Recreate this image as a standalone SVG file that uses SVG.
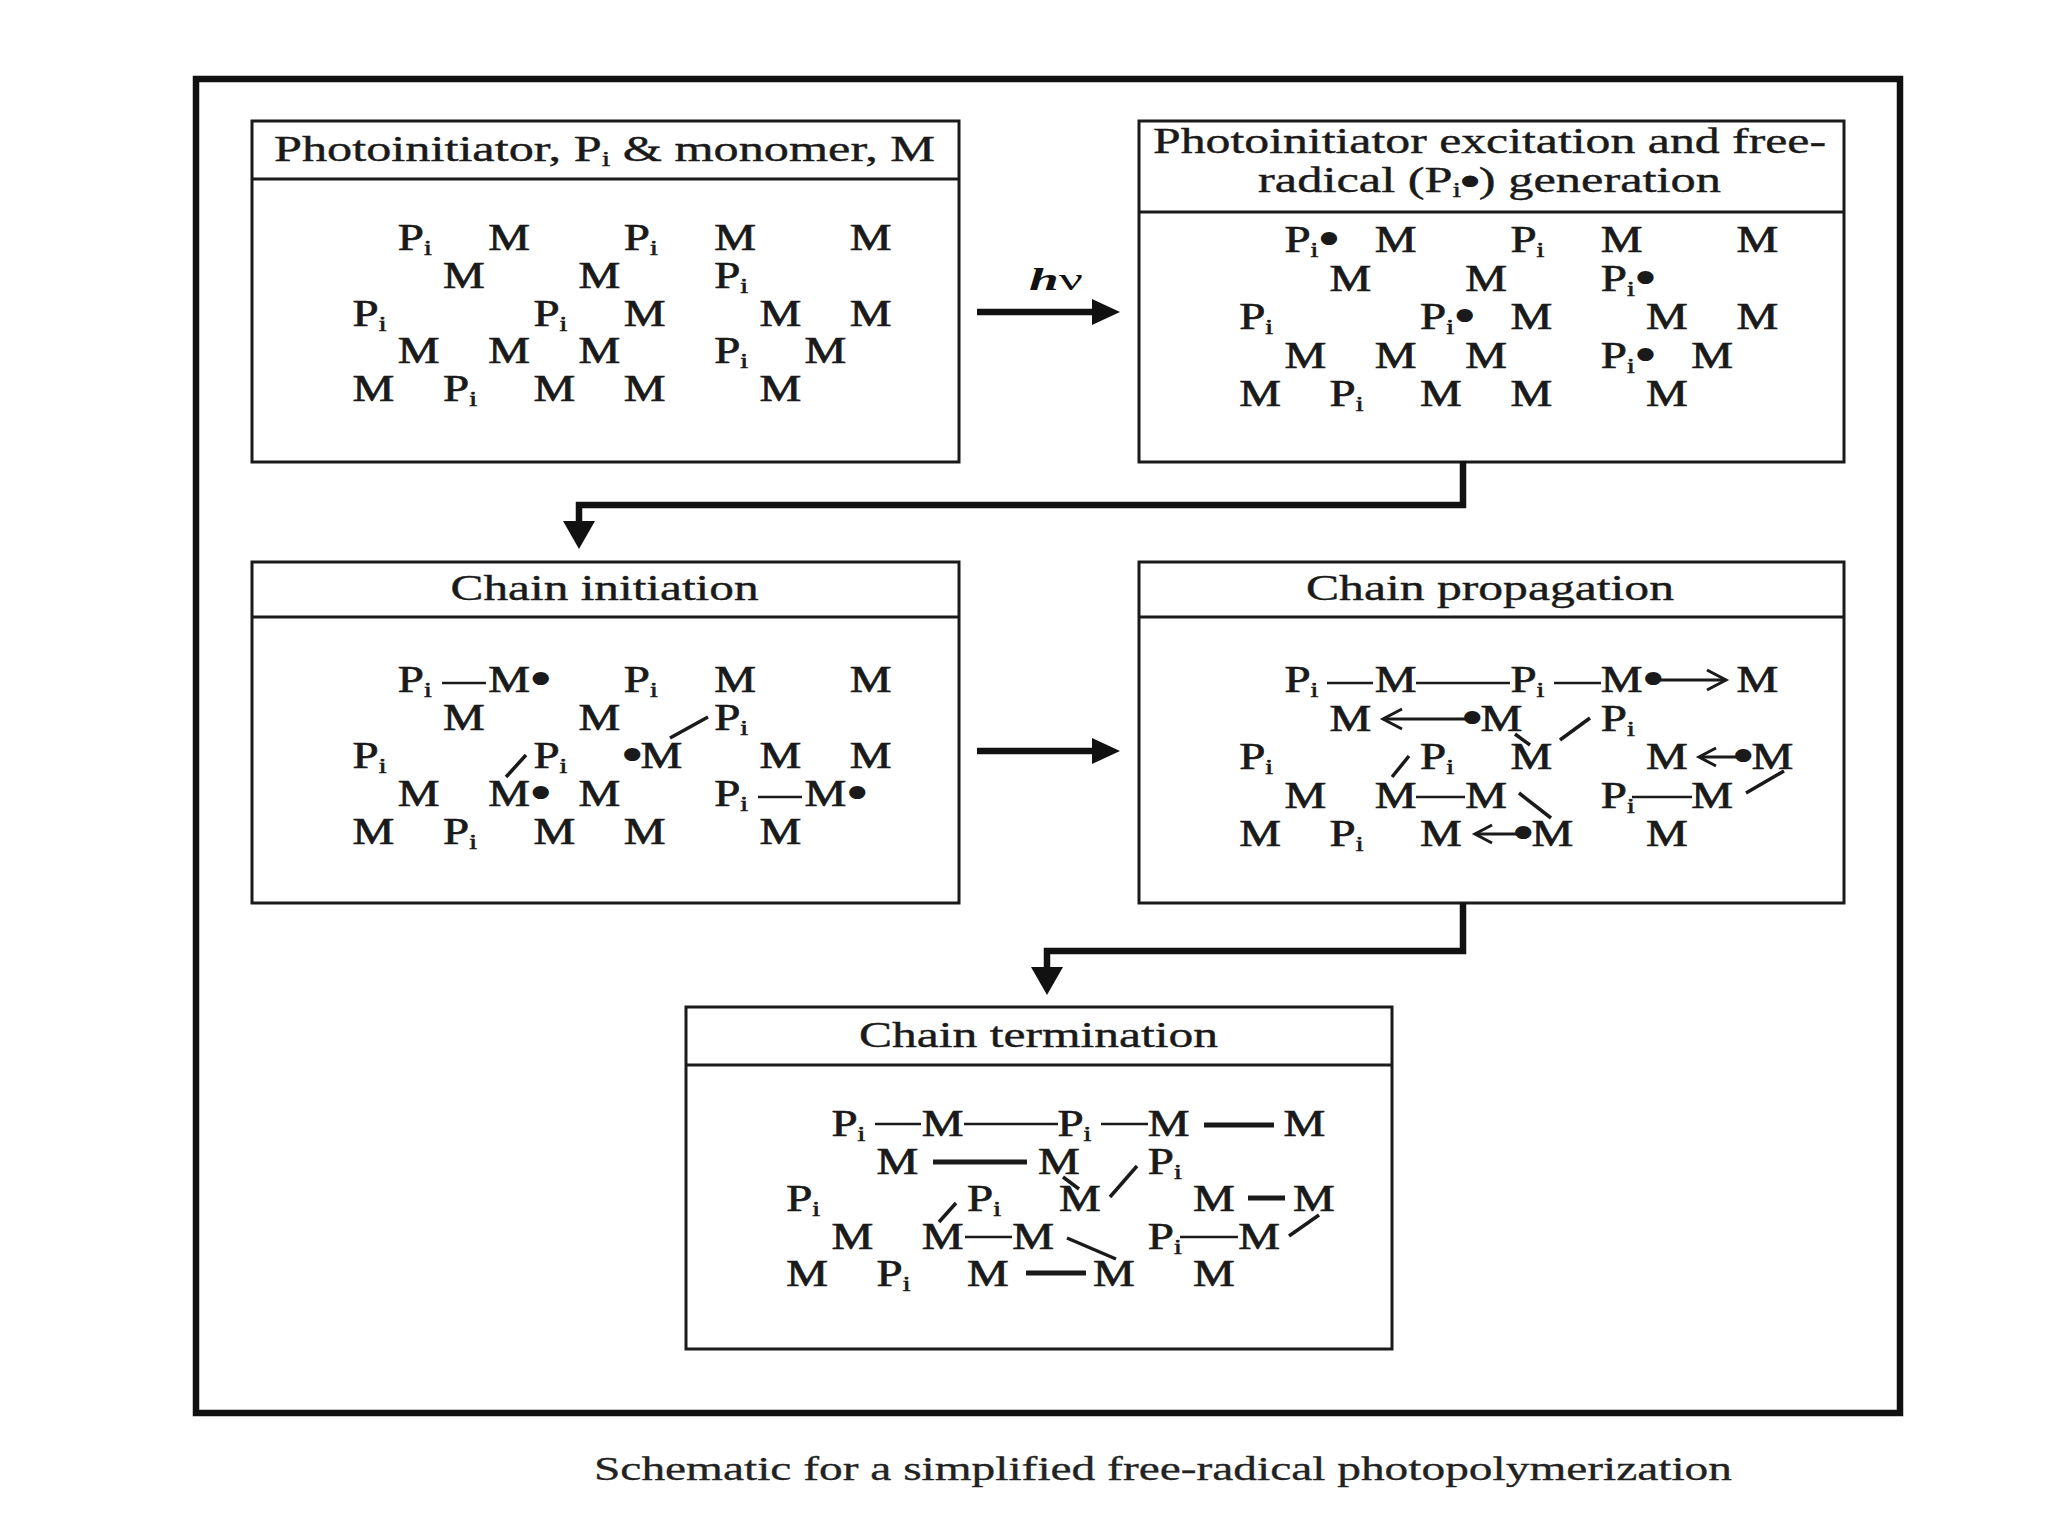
<svg xmlns="http://www.w3.org/2000/svg" width="2048" height="1536" viewBox="0 0 2048 1536">
<style>
.bg{fill:#fff}
.frame{fill:none;stroke:#111;stroke-width:6.5}
.box{fill:#fff;stroke:#1a1a1a;stroke-width:3}
.sep{stroke:#1a1a1a;stroke-width:3}
.hd{font-family:"Liberation Serif","Times New Roman",serif;font-size:36px;fill:#1a1a1a;stroke:#1a1a1a;stroke-width:0.4}
.t{font-family:"Liberation Serif","Times New Roman",serif;font-size:37px;fill:#1a1a1a;stroke:#1a1a1a;stroke-width:0.7}
.s{font-size:22px}
.b{stroke-width:4;stroke-linejoin:round}
.b2{stroke-width:3;stroke-linejoin:round}
.thin{stroke:#1a1a1a;stroke-width:2.5;fill:none}
.thick{stroke:#1a1a1a;stroke-width:5;fill:none}
.sl{stroke:#1a1a1a;stroke-width:3.5;fill:none}
.ah{stroke:#1a1a1a;stroke-width:3;fill:none;stroke-linejoin:miter}
.conn{fill:none;stroke:#111;stroke-width:6.5}
.head{fill:#111}
.cap{font-family:"Liberation Serif","Times New Roman",serif;font-size:33px;fill:#222;stroke:#222;stroke-width:0.3}
.hv{font-family:"Liberation Serif","Times New Roman",serif;font-size:31px;fill:#111}
.hvh{font-style:italic;font-weight:bold}
</style>
<rect class="bg" x="0" y="0" width="2048" height="1536"/>
<rect class="frame" x="196" y="79" width="1704" height="1334"/>

<g id="node-1">
<rect class="box" x="252" y="121" width="707" height="341"/>
<line class="sep" x1="252" y1="179" x2="959" y2="179"/>
<text class="hd" x="274" y="161" textLength="661" lengthAdjust="spacingAndGlyphs">Photoinitiator, P<tspan class="s" dy="5">i</tspan><tspan dy="-5"> &amp; monomer, M</tspan></text>
<text class="t" transform="translate(397.8 250) scale(1.27 1)">P<tspan class="s" dy="5">i</tspan></text>
<text class="t" transform="translate(488.2 250) scale(1.27 1)">M</text>
<text class="t" transform="translate(623.8 250) scale(1.27 1)">P<tspan class="s" dy="5">i</tspan></text>
<text class="t" transform="translate(714.2 250) scale(1.27 1)">M</text>
<text class="t" transform="translate(849.8 250) scale(1.27 1)">M</text>
<text class="t" transform="translate(443 288) scale(1.27 1)">M</text>
<text class="t" transform="translate(578.6 288) scale(1.27 1)">M</text>
<text class="t" transform="translate(714.2 288) scale(1.27 1)">P<tspan class="s" dy="5">i</tspan></text>
<text class="t" transform="translate(352.6 325.5) scale(1.27 1)">P<tspan class="s" dy="5">i</tspan></text>
<text class="t" transform="translate(533.4 325.5) scale(1.27 1)">P<tspan class="s" dy="5">i</tspan></text>
<text class="t" transform="translate(623.8 325.5) scale(1.27 1)">M</text>
<text class="t" transform="translate(759.4 325.5) scale(1.27 1)">M</text>
<text class="t" transform="translate(849.8 325.5) scale(1.27 1)">M</text>
<text class="t" transform="translate(397.8 363) scale(1.27 1)">M</text>
<text class="t" transform="translate(488.2 363) scale(1.27 1)">M</text>
<text class="t" transform="translate(578.6 363) scale(1.27 1)">M</text>
<text class="t" transform="translate(714.2 363) scale(1.27 1)">P<tspan class="s" dy="5">i</tspan></text>
<text class="t" transform="translate(804.6 363) scale(1.27 1)">M</text>
<text class="t" transform="translate(352.6 400.5) scale(1.27 1)">M</text>
<text class="t" transform="translate(443 400.5) scale(1.27 1)">P<tspan class="s" dy="5">i</tspan></text>
<text class="t" transform="translate(533.4 400.5) scale(1.27 1)">M</text>
<text class="t" transform="translate(623.8 400.5) scale(1.27 1)">M</text>
<text class="t" transform="translate(759.4 400.5) scale(1.27 1)">M</text>
</g>

<g id="node-2">
<rect class="box" x="1139" y="121" width="705" height="341"/>
<line class="sep" x1="1139" y1="212" x2="1844" y2="212"/>
<text class="hd" x="1153" y="153" textLength="673" lengthAdjust="spacingAndGlyphs">Photoinitiator excitation and free-</text>
<text class="hd" x="1258" y="192" textLength="463" lengthAdjust="spacingAndGlyphs">radical (P<tspan class="s" dy="5">i</tspan><tspan class="b2" dy="-3">•</tspan><tspan dy="-2">) generation</tspan></text>
<text class="t" transform="translate(1284.4 252) scale(1.27 1)">P<tspan class="s" dy="5">i</tspan><tspan class="b" dy="-5" dx="2">•</tspan></text>
<text class="t" transform="translate(1374.8 252) scale(1.27 1)">M</text>
<text class="t" transform="translate(1510.4 252) scale(1.27 1)">P<tspan class="s" dy="5">i</tspan></text>
<text class="t" transform="translate(1600.8 252) scale(1.27 1)">M</text>
<text class="t" transform="translate(1736.4 252) scale(1.27 1)">M</text>
<text class="t" transform="translate(1329.6 290.5) scale(1.27 1)">M</text>
<text class="t" transform="translate(1465.2 290.5) scale(1.27 1)">M</text>
<text class="t" transform="translate(1600.8 290.5) scale(1.27 1)">P<tspan class="s" dy="5">i</tspan><tspan class="b" dy="-5" dx="2">•</tspan></text>
<text class="t" transform="translate(1239.2 329) scale(1.27 1)">P<tspan class="s" dy="5">i</tspan></text>
<text class="t" transform="translate(1420 329) scale(1.27 1)">P<tspan class="s" dy="5">i</tspan><tspan class="b" dy="-5" dx="2">•</tspan></text>
<text class="t" transform="translate(1510.4 329) scale(1.27 1)">M</text>
<text class="t" transform="translate(1646 329) scale(1.27 1)">M</text>
<text class="t" transform="translate(1736.4 329) scale(1.27 1)">M</text>
<text class="t" transform="translate(1284.4 367.5) scale(1.27 1)">M</text>
<text class="t" transform="translate(1374.8 367.5) scale(1.27 1)">M</text>
<text class="t" transform="translate(1465.2 367.5) scale(1.27 1)">M</text>
<text class="t" transform="translate(1600.8 367.5) scale(1.27 1)">P<tspan class="s" dy="5">i</tspan><tspan class="b" dy="-5" dx="2">•</tspan></text>
<text class="t" transform="translate(1691.2 367.5) scale(1.27 1)">M</text>
<text class="t" transform="translate(1239.2 406) scale(1.27 1)">M</text>
<text class="t" transform="translate(1329.6 406) scale(1.27 1)">P<tspan class="s" dy="5">i</tspan></text>
<text class="t" transform="translate(1420 406) scale(1.27 1)">M</text>
<text class="t" transform="translate(1510.4 406) scale(1.27 1)">M</text>
<text class="t" transform="translate(1646 406) scale(1.27 1)">M</text>
</g>

<g id="node-3">
<rect class="box" x="252" y="562" width="707" height="341"/>
<line class="sep" x1="252" y1="617" x2="959" y2="617"/>
<text class="hd" x="450.6" y="600" textLength="308" lengthAdjust="spacingAndGlyphs">Chain initiation</text>
<text class="t" transform="translate(397.8 692) scale(1.27 1)">P<tspan class="s" dy="5">i</tspan></text>
<line class="thin" x1="442" y1="683" x2="486" y2="683"/>
<text class="t" transform="translate(488.2 692) scale(1.27 1)">M<tspan class="b" dx="2">•</tspan></text>
<text class="t" transform="translate(623.8 692) scale(1.27 1)">P<tspan class="s" dy="5">i</tspan></text>
<text class="t" transform="translate(714.2 692) scale(1.27 1)">M</text>
<text class="t" transform="translate(849.8 692) scale(1.27 1)">M</text>
<text class="t" transform="translate(443 730) scale(1.27 1)">M</text>
<text class="t" transform="translate(578.6 730) scale(1.27 1)">M</text>
<line class="sl" x1="670" y1="738" x2="708" y2="717"/>
<text class="t" transform="translate(714.2 730) scale(1.27 1)">P<tspan class="s" dy="5">i</tspan></text>
<text class="t" transform="translate(352.6 768) scale(1.27 1)">P<tspan class="s" dy="5">i</tspan></text>
<line class="sl" x1="506" y1="777" x2="526" y2="755"/>
<text class="t" transform="translate(533.4 768) scale(1.27 1)">P<tspan class="s" dy="5">i</tspan></text>
<text class="t" transform="translate(624 768) scale(1.27 1)"><tspan class="b">•</tspan>M</text>
<text class="t" transform="translate(759.4 768) scale(1.27 1)">M</text>
<text class="t" transform="translate(849.8 768) scale(1.27 1)">M</text>
<text class="t" transform="translate(397.8 806) scale(1.27 1)">M</text>
<text class="t" transform="translate(488.2 806) scale(1.27 1)">M<tspan class="b" dx="2">•</tspan></text>
<text class="t" transform="translate(578.6 806) scale(1.27 1)">M</text>
<text class="t" transform="translate(714.2 806) scale(1.27 1)">P<tspan class="s" dy="5">i</tspan></text>
<line class="thin" x1="758" y1="797" x2="802" y2="797"/>
<text class="t" transform="translate(804.6 806) scale(1.27 1)">M<tspan class="b" dx="2">•</tspan></text>
<text class="t" transform="translate(352.6 844) scale(1.27 1)">M</text>
<text class="t" transform="translate(443 844) scale(1.27 1)">P<tspan class="s" dy="5">i</tspan></text>
<text class="t" transform="translate(533.4 844) scale(1.27 1)">M</text>
<text class="t" transform="translate(623.8 844) scale(1.27 1)">M</text>
<text class="t" transform="translate(759.4 844) scale(1.27 1)">M</text>
</g>

<g id="node-4">
<rect class="box" x="1139" y="562" width="705" height="341"/>
<line class="sep" x1="1139" y1="617" x2="1844" y2="617"/>
<text class="hd" x="1306" y="600" textLength="368" lengthAdjust="spacingAndGlyphs">Chain propagation</text>
<text class="t" transform="translate(1284.4 692) scale(1.27 1)">P<tspan class="s" dy="5">i</tspan></text>
<line class="thin" x1="1327" y1="683" x2="1373" y2="683"/>
<text class="t" transform="translate(1374.8 692) scale(1.27 1)">M</text>
<line class="thin" x1="1416" y1="683" x2="1510" y2="683"/>
<text class="t" transform="translate(1510.4 692) scale(1.27 1)">P<tspan class="s" dy="5">i</tspan></text>
<line class="thin" x1="1554" y1="683" x2="1601" y2="683"/>
<text class="t" transform="translate(1600.8 692) scale(1.27 1)">M<tspan class="b" dx="2">•</tspan></text>
<line class="ah" x1="1656" y1="680" x2="1725" y2="680"/>
<polyline class="ah" points="1707,670 1726,680 1707,690"/>
<text class="t" transform="translate(1736.4 692) scale(1.27 1)">M</text>
<text class="t" transform="translate(1329.6 731) scale(1.27 1)">M</text>
<line class="ah" x1="1383" y1="719" x2="1468" y2="719"/>
<polyline class="ah" points="1402,709 1383,719 1402,729"/>
<text class="t" transform="translate(1464 731) scale(1.27 1)"><tspan class="b">•</tspan>M</text>
<line class="sl" x1="1515" y1="734" x2="1530" y2="745"/>
<line class="sl" x1="1560" y1="740" x2="1590" y2="718"/>
<text class="t" transform="translate(1600.8 731) scale(1.27 1)">P<tspan class="s" dy="5">i</tspan></text>
<text class="t" transform="translate(1239.2 769) scale(1.27 1)">P<tspan class="s" dy="5">i</tspan></text>
<line class="sl" x1="1392" y1="777" x2="1409" y2="756"/>
<text class="t" transform="translate(1420 769) scale(1.27 1)">P<tspan class="s" dy="5">i</tspan></text>
<text class="t" transform="translate(1510.4 769) scale(1.27 1)">M</text>
<text class="t" transform="translate(1646 769) scale(1.27 1)">M</text>
<line class="ah" x1="1699" y1="757" x2="1740" y2="757"/>
<polyline class="ah" points="1716,748 1699,757 1716,766"/>
<text class="t" transform="translate(1735 769) scale(1.27 1)"><tspan class="b">•</tspan>M</text>
<line class="sl" x1="1784" y1="771" x2="1746" y2="793"/>
<text class="t" transform="translate(1284.4 808) scale(1.27 1)">M</text>
<text class="t" transform="translate(1374.8 808) scale(1.27 1)">M</text>
<line class="thin" x1="1416" y1="797" x2="1465" y2="797"/>
<text class="t" transform="translate(1465.2 808) scale(1.27 1)">M</text>
<line class="sl" x1="1519" y1="793" x2="1551" y2="818"/>
<text class="t" transform="translate(1600.8 808) scale(1.27 1)">P<tspan class="s" dy="5">i</tspan></text>
<line class="thin" x1="1632" y1="797" x2="1692" y2="797"/>
<text class="t" transform="translate(1691.2 808) scale(1.27 1)">M</text>
<text class="t" transform="translate(1239.2 846) scale(1.27 1)">M</text>
<text class="t" transform="translate(1329.6 846) scale(1.27 1)">P<tspan class="s" dy="5">i</tspan></text>
<text class="t" transform="translate(1420 846) scale(1.27 1)">M</text>
<line class="ah" x1="1475" y1="834" x2="1520" y2="834"/>
<polyline class="ah" points="1492,825 1475,834 1492,843"/>
<text class="t" transform="translate(1515 846) scale(1.27 1)"><tspan class="b">•</tspan>M</text>
<text class="t" transform="translate(1646 846) scale(1.27 1)">M</text>
</g>

<g id="node-5">
<rect class="box" x="686" y="1007" width="706" height="342"/>
<line class="sep" x1="686" y1="1065" x2="1392" y2="1065"/>
<text class="hd" x="859" y="1047" textLength="359" lengthAdjust="spacingAndGlyphs">Chain termination</text>
<text class="t" transform="translate(831.4 1136) scale(1.27 1)">P<tspan class="s" dy="5">i</tspan></text>
<line class="thin" x1="875" y1="1124" x2="921" y2="1124"/>
<text class="t" transform="translate(921.8 1136) scale(1.27 1)">M</text>
<line class="thin" x1="964" y1="1124" x2="1058" y2="1124"/>
<text class="t" transform="translate(1057.4 1136) scale(1.27 1)">P<tspan class="s" dy="5">i</tspan></text>
<line class="thin" x1="1101" y1="1124" x2="1148" y2="1124"/>
<text class="t" transform="translate(1147.8 1136) scale(1.27 1)">M</text>
<line class="thick" x1="1204" y1="1125" x2="1274" y2="1125"/>
<text class="t" transform="translate(1283.4 1136) scale(1.27 1)">M</text>
<text class="t" transform="translate(876.6 1173.5) scale(1.27 1)">M</text>
<line class="thick" x1="933" y1="1162" x2="1027" y2="1162"/>
<text class="t" transform="translate(1038 1173.5) scale(1.27 1)">M</text>
<line class="sl" x1="1063" y1="1177" x2="1079" y2="1189"/>
<line class="sl" x1="1110" y1="1197" x2="1137" y2="1166"/>
<text class="t" transform="translate(1147.8 1173.5) scale(1.27 1)">P<tspan class="s" dy="5">i</tspan></text>
<text class="t" transform="translate(786.2 1211) scale(1.27 1)">P<tspan class="s" dy="5">i</tspan></text>
<line class="sl" x1="939" y1="1222" x2="956" y2="1203"/>
<text class="t" transform="translate(967 1211) scale(1.27 1)">P<tspan class="s" dy="5">i</tspan></text>
<text class="t" transform="translate(1059 1211) scale(1.27 1)">M</text>
<text class="t" transform="translate(1193 1211) scale(1.27 1)">M</text>
<line class="thick" x1="1248" y1="1198" x2="1285" y2="1198"/>
<text class="t" transform="translate(1293 1211) scale(1.27 1)">M</text>
<line class="sl" x1="1319" y1="1215" x2="1289" y2="1236"/>
<text class="t" transform="translate(831.4 1248.5) scale(1.27 1)">M</text>
<text class="t" transform="translate(921.8 1248.5) scale(1.27 1)">M</text>
<line class="thin" x1="965" y1="1237" x2="1012" y2="1237"/>
<text class="t" transform="translate(1012.2 1248.5) scale(1.27 1)">M</text>
<line class="sl" x1="1067" y1="1238" x2="1116" y2="1259"/>
<text class="t" transform="translate(1147.8 1248.5) scale(1.27 1)">P<tspan class="s" dy="5">i</tspan></text>
<line class="thin" x1="1180" y1="1237" x2="1238" y2="1237"/>
<text class="t" transform="translate(1238.2 1248.5) scale(1.27 1)">M</text>
<text class="t" transform="translate(786.2 1286) scale(1.27 1)">M</text>
<text class="t" transform="translate(876.6 1286) scale(1.27 1)">P<tspan class="s" dy="5">i</tspan></text>
<text class="t" transform="translate(967 1286) scale(1.27 1)">M</text>
<line class="thick" x1="1026" y1="1273" x2="1086" y2="1273"/>
<text class="t" transform="translate(1093 1286) scale(1.27 1)">M</text>
<text class="t" transform="translate(1193 1286) scale(1.27 1)">M</text>
</g>

<g id="connectors">
<line class="conn" x1="977" y1="312" x2="1095" y2="312"/>
<polygon class="head" points="1092,299 1120,312 1092,325"/>
<text class="hv" x="1029" y="290" textLength="54" lengthAdjust="spacingAndGlyphs"><tspan class="hvh">h</tspan>ν</text>
<path class="conn" d="M1463,461 V505 H579 V524"/>
<polygon class="head" points="563,521 595,521 579,549"/>
<line class="conn" x1="977" y1="751" x2="1095" y2="751"/>
<polygon class="head" points="1092,738 1120,751 1092,764"/>
<path class="conn" d="M1463,903 V951 H1047 V970"/>
<polygon class="head" points="1031,967 1063,967 1047,995"/>
</g>

<text class="cap" x="594" y="1480" textLength="1138" lengthAdjust="spacingAndGlyphs">Schematic for a simplified free-radical photopolymerization</text>
</svg>
